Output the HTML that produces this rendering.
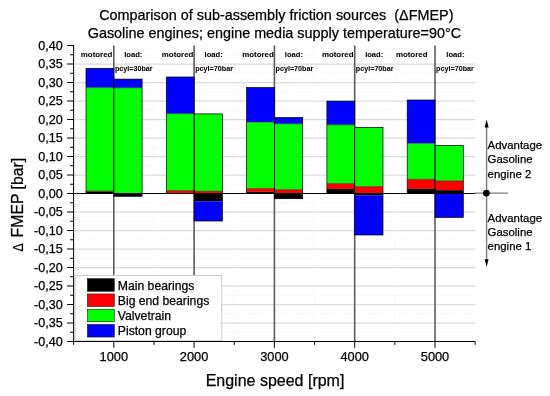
<!DOCTYPE html>
<html><head><meta charset="utf-8"><title>Comparison of sub-assembly friction sources</title>
<style>html,body{margin:0;padding:0;background:#fff}svg{display:block}text{font-family:"Liberation Sans",Arial,sans-serif;fill:#000;stroke:#000;stroke-width:0.25px}.s text{stroke-width:0.06px}</style>
</head><body>
<svg width="550" height="396" viewBox="0 0 550 396">
<rect width="550" height="396" fill="#fff"/>
<g stroke="#dcdcdc" stroke-width="1.25">
<line x1="73.6" x2="475.2" y1="323.00" y2="323.00"/>
<line x1="73.6" x2="475.2" y1="304.50" y2="304.50"/>
<line x1="73.6" x2="475.2" y1="286.00" y2="286.00"/>
<line x1="73.6" x2="475.2" y1="267.50" y2="267.50"/>
<line x1="73.6" x2="475.2" y1="249.00" y2="249.00"/>
<line x1="73.6" x2="475.2" y1="230.50" y2="230.50"/>
<line x1="73.6" x2="475.2" y1="212.00" y2="212.00"/>
<line x1="73.6" x2="475.2" y1="175.00" y2="175.00"/>
<line x1="73.6" x2="475.2" y1="156.50" y2="156.50"/>
<line x1="73.6" x2="475.2" y1="138.00" y2="138.00"/>
<line x1="73.6" x2="475.2" y1="119.50" y2="119.50"/>
<line x1="73.6" x2="475.2" y1="101.00" y2="101.00"/>
<line x1="73.6" x2="475.2" y1="82.50" y2="82.50"/>
<line x1="73.6" x2="475.2" y1="64.00" y2="64.00"/>
</g>
<g stroke="#e9e9e9" stroke-width="0.8" stroke-dasharray="1 2">
<line x1="73.6" x2="475.2" y1="332.25" y2="332.25"/>
<line x1="73.6" x2="475.2" y1="313.75" y2="313.75"/>
<line x1="73.6" x2="475.2" y1="295.25" y2="295.25"/>
<line x1="73.6" x2="475.2" y1="276.75" y2="276.75"/>
<line x1="73.6" x2="475.2" y1="258.25" y2="258.25"/>
<line x1="73.6" x2="475.2" y1="239.75" y2="239.75"/>
<line x1="73.6" x2="475.2" y1="221.25" y2="221.25"/>
<line x1="73.6" x2="475.2" y1="202.75" y2="202.75"/>
<line x1="73.6" x2="475.2" y1="184.25" y2="184.25"/>
<line x1="73.6" x2="475.2" y1="165.75" y2="165.75"/>
<line x1="73.6" x2="475.2" y1="147.25" y2="147.25"/>
<line x1="73.6" x2="475.2" y1="128.75" y2="128.75"/>
<line x1="73.6" x2="475.2" y1="110.25" y2="110.25"/>
<line x1="73.6" x2="475.2" y1="91.75" y2="91.75"/>
<line x1="73.6" x2="475.2" y1="73.25" y2="73.25"/>
<line x1="73.6" x2="475.2" y1="54.75" y2="54.75"/>
<line x1="153.95" x2="153.95" y1="45.5" y2="341.5"/>
<line x1="234.25" x2="234.25" y1="45.5" y2="341.5"/>
<line x1="314.55" x2="314.55" y1="45.5" y2="341.5"/>
<line x1="394.85" x2="394.85" y1="45.5" y2="341.5"/>
</g>
<g stroke="#5c5c5c" stroke-width="1.6">
<line x1="113.80" x2="113.80" y1="45.5" y2="341.5"/>
<line x1="194.10" x2="194.10" y1="45.5" y2="341.5"/>
<line x1="274.40" x2="274.40" y1="45.5" y2="341.5"/>
<line x1="354.70" x2="354.70" y1="45.5" y2="341.5"/>
<line x1="435.00" x2="435.00" y1="45.5" y2="341.5"/>
</g>
<rect x="75.0" y="275.6" width="146.8" height="65.2" fill="#fff" stroke="#c8c8c8" stroke-width="1"/>
<rect x="87.4" y="278.70" width="26.9" height="12.6" fill="#000" stroke="#000" stroke-width="0.5"/>
<text x="117.8" y="289.9" font-size="12.2">Main bearings</text>
<rect x="87.4" y="293.95" width="26.9" height="12.6" fill="#f00" stroke="#000" stroke-width="0.5"/>
<text x="117.8" y="304.9" font-size="12.2">Big end bearings</text>
<rect x="87.4" y="309.20" width="26.9" height="12.6" fill="#0f0" stroke="#000" stroke-width="0.5"/>
<text x="117.8" y="319.9" font-size="12.2">Valvetrain</text>
<rect x="87.4" y="324.45" width="26.9" height="12.6" fill="#00f" stroke="#000" stroke-width="0.5"/>
<text x="117.8" y="334.9" font-size="12.2">Piston group</text>
<g>
<rect x="86.00" y="68.40" width="27.80" height="19.20" fill="#00f"/>
<rect x="86.00" y="87.60" width="27.80" height="103.40" fill="#0f0"/>
<rect x="86.00" y="191.00" width="27.80" height="0.70" fill="#f00"/>
<rect x="86.00" y="191.70" width="27.80" height="1.80" fill="#000"/>
<rect x="113.80" y="79.10" width="28.30" height="8.70" fill="#00f"/>
<rect x="113.80" y="87.80" width="28.30" height="105.70" fill="#0f0"/>
<rect x="113.80" y="193.50" width="28.30" height="2.80" fill="#000"/>
<rect x="166.30" y="77.00" width="27.80" height="36.70" fill="#00f"/>
<rect x="166.30" y="113.70" width="27.80" height="76.90" fill="#0f0"/>
<rect x="166.30" y="190.60" width="27.80" height="2.90" fill="#f00"/>
<rect x="194.10" y="113.90" width="28.30" height="77.30" fill="#0f0"/>
<rect x="194.10" y="191.20" width="28.30" height="2.30" fill="#f00"/>
<rect x="194.10" y="193.50" width="28.30" height="7.80" fill="#000"/>
<rect x="194.10" y="201.30" width="28.30" height="19.70" fill="#00f"/>
<rect x="246.60" y="87.50" width="27.80" height="34.70" fill="#00f"/>
<rect x="246.60" y="122.20" width="27.80" height="66.40" fill="#0f0"/>
<rect x="246.60" y="188.60" width="27.80" height="3.20" fill="#f00"/>
<rect x="246.60" y="191.80" width="27.80" height="1.70" fill="#000"/>
<rect x="274.40" y="117.50" width="28.30" height="6.30" fill="#00f"/>
<rect x="274.40" y="123.80" width="28.30" height="65.80" fill="#0f0"/>
<rect x="274.40" y="189.60" width="28.30" height="3.90" fill="#f00"/>
<rect x="274.40" y="193.50" width="28.30" height="5.20" fill="#000"/>
<rect x="326.90" y="101.10" width="27.80" height="23.70" fill="#00f"/>
<rect x="326.90" y="124.80" width="27.80" height="58.80" fill="#0f0"/>
<rect x="326.90" y="183.60" width="27.80" height="5.40" fill="#f00"/>
<rect x="326.90" y="189.00" width="27.80" height="4.50" fill="#000"/>
<rect x="354.70" y="127.50" width="28.30" height="59.10" fill="#0f0"/>
<rect x="354.70" y="186.60" width="28.30" height="6.90" fill="#f00"/>
<rect x="354.70" y="193.50" width="28.30" height="1.80" fill="#000"/>
<rect x="354.70" y="195.30" width="28.30" height="39.70" fill="#00f"/>
<rect x="407.20" y="100.00" width="27.80" height="43.40" fill="#00f"/>
<rect x="407.20" y="143.40" width="27.80" height="35.90" fill="#0f0"/>
<rect x="407.20" y="179.30" width="27.80" height="9.60" fill="#f00"/>
<rect x="407.20" y="188.90" width="27.80" height="4.60" fill="#000"/>
<rect x="435.00" y="145.50" width="28.30" height="35.40" fill="#0f0"/>
<rect x="435.00" y="180.90" width="28.30" height="9.30" fill="#f00"/>
<rect x="435.00" y="190.20" width="28.30" height="3.40" fill="#000"/>
<rect x="435.00" y="193.60" width="28.30" height="23.80" fill="#00f"/>
</g>
<g stroke="#000" stroke-width="0.5" stroke-opacity="0.75" fill="none">
<line x1="86.00" x2="113.80" y1="87.60" y2="87.60"/>
<line x1="86.00" x2="113.80" y1="191.00" y2="191.00"/>
<line x1="113.80" x2="142.10" y1="87.80" y2="87.80"/>
<line x1="166.30" x2="194.10" y1="113.70" y2="113.70"/>
<line x1="166.30" x2="194.10" y1="190.60" y2="190.60"/>
<line x1="194.10" x2="222.40" y1="191.20" y2="191.20"/>
<line x1="246.60" x2="274.40" y1="122.20" y2="122.20"/>
<line x1="246.60" x2="274.40" y1="188.60" y2="188.60"/>
<line x1="274.40" x2="302.70" y1="123.80" y2="123.80"/>
<line x1="274.40" x2="302.70" y1="189.60" y2="189.60"/>
<line x1="326.90" x2="354.70" y1="124.80" y2="124.80"/>
<line x1="326.90" x2="354.70" y1="183.60" y2="183.60"/>
<line x1="354.70" x2="383.00" y1="186.60" y2="186.60"/>
<line x1="407.20" x2="435.00" y1="143.40" y2="143.40"/>
<line x1="407.20" x2="435.00" y1="179.30" y2="179.30"/>
<line x1="435.00" x2="463.30" y1="180.90" y2="180.90"/>
</g>
<g stroke="#000" stroke-width="0.7" fill="none">
<rect x="86.00" y="68.40" width="27.80" height="125.10"/>
<rect x="113.80" y="79.10" width="28.30" height="117.20"/>
<rect x="166.30" y="77.00" width="27.80" height="116.50"/>
<rect x="194.10" y="113.90" width="28.30" height="107.10"/>
<rect x="246.60" y="87.50" width="27.80" height="106.00"/>
<rect x="274.40" y="117.50" width="28.30" height="81.20"/>
<rect x="326.90" y="101.10" width="27.80" height="92.40"/>
<rect x="354.70" y="127.50" width="28.30" height="107.50"/>
<rect x="407.20" y="100.00" width="27.80" height="93.50"/>
<rect x="435.00" y="145.50" width="28.30" height="71.90"/>
</g>
<line x1="73.6" x2="475.2" y1="193.5" y2="193.5" stroke="#000" stroke-width="1.0"/>
<line x1="475.2" x2="508" y1="193.1" y2="193.1" stroke="#7c7c7c" stroke-width="1.4"/>
<g stroke="#000" stroke-width="1.0">
<line x1="73.6" x2="73.6" y1="44.9" y2="342.1"/>
<line x1="73.6" x2="475.2" y1="341.5" y2="341.5"/>
<line x1="67.1" x2="73.6" y1="341.50" y2="341.50"/>
<line x1="67.1" x2="73.6" y1="323.00" y2="323.00"/>
<line x1="67.1" x2="73.6" y1="304.50" y2="304.50"/>
<line x1="67.1" x2="73.6" y1="286.00" y2="286.00"/>
<line x1="67.1" x2="73.6" y1="267.50" y2="267.50"/>
<line x1="67.1" x2="73.6" y1="249.00" y2="249.00"/>
<line x1="67.1" x2="73.6" y1="230.50" y2="230.50"/>
<line x1="67.1" x2="73.6" y1="212.00" y2="212.00"/>
<line x1="67.1" x2="73.6" y1="193.50" y2="193.50"/>
<line x1="67.1" x2="73.6" y1="175.00" y2="175.00"/>
<line x1="67.1" x2="73.6" y1="156.50" y2="156.50"/>
<line x1="67.1" x2="73.6" y1="138.00" y2="138.00"/>
<line x1="67.1" x2="73.6" y1="119.50" y2="119.50"/>
<line x1="67.1" x2="73.6" y1="101.00" y2="101.00"/>
<line x1="67.1" x2="73.6" y1="82.50" y2="82.50"/>
<line x1="67.1" x2="73.6" y1="64.00" y2="64.00"/>
<line x1="67.1" x2="73.6" y1="45.50" y2="45.50"/>
<line x1="70.1" x2="73.6" y1="332.25" y2="332.25"/>
<line x1="70.1" x2="73.6" y1="313.75" y2="313.75"/>
<line x1="70.1" x2="73.6" y1="295.25" y2="295.25"/>
<line x1="70.1" x2="73.6" y1="276.75" y2="276.75"/>
<line x1="70.1" x2="73.6" y1="258.25" y2="258.25"/>
<line x1="70.1" x2="73.6" y1="239.75" y2="239.75"/>
<line x1="70.1" x2="73.6" y1="221.25" y2="221.25"/>
<line x1="70.1" x2="73.6" y1="202.75" y2="202.75"/>
<line x1="70.1" x2="73.6" y1="184.25" y2="184.25"/>
<line x1="70.1" x2="73.6" y1="165.75" y2="165.75"/>
<line x1="70.1" x2="73.6" y1="147.25" y2="147.25"/>
<line x1="70.1" x2="73.6" y1="128.75" y2="128.75"/>
<line x1="70.1" x2="73.6" y1="110.25" y2="110.25"/>
<line x1="70.1" x2="73.6" y1="91.75" y2="91.75"/>
<line x1="70.1" x2="73.6" y1="73.25" y2="73.25"/>
<line x1="70.1" x2="73.6" y1="54.75" y2="54.75"/>
<line x1="113.80" x2="113.80" y1="341.5" y2="347.8"/>
<line x1="194.10" x2="194.10" y1="341.5" y2="347.8"/>
<line x1="274.40" x2="274.40" y1="341.5" y2="347.8"/>
<line x1="354.70" x2="354.70" y1="341.5" y2="347.8"/>
<line x1="435.00" x2="435.00" y1="341.5" y2="347.8"/>
<line x1="73.65" x2="73.65" y1="341.5" y2="344.8"/>
<line x1="153.95" x2="153.95" y1="341.5" y2="344.8"/>
<line x1="234.25" x2="234.25" y1="341.5" y2="344.8"/>
<line x1="314.55" x2="314.55" y1="341.5" y2="344.8"/>
<line x1="394.85" x2="394.85" y1="341.5" y2="344.8"/>
<line x1="475.15" x2="475.15" y1="341.5" y2="344.8"/>
</g>
<g font-size="12.6" text-anchor="end">
<text x="62.8" y="345.80">-0,40</text>
<text x="62.8" y="327.30">-0,35</text>
<text x="62.8" y="308.80">-0,30</text>
<text x="62.8" y="290.30">-0,25</text>
<text x="62.8" y="271.80">-0,20</text>
<text x="62.8" y="253.30">-0,15</text>
<text x="62.8" y="234.80">-0,10</text>
<text x="62.8" y="216.30">-0,05</text>
<text x="62.8" y="197.80">0,00</text>
<text x="62.8" y="179.30">0,05</text>
<text x="62.8" y="160.80">0,10</text>
<text x="62.8" y="142.30">0,15</text>
<text x="62.8" y="123.80">0,20</text>
<text x="62.8" y="105.30">0,25</text>
<text x="62.8" y="86.80">0,30</text>
<text x="62.8" y="68.30">0,35</text>
<text x="62.8" y="49.80">0,40</text>
</g>
<g font-size="12.8" text-anchor="middle">
<text x="113.80" y="360.8">1000</text>
<text x="194.10" y="360.8">2000</text>
<text x="274.40" y="360.8">3000</text>
<text x="354.70" y="360.8">4000</text>
<text x="435.00" y="360.8">5000</text>
</g>
<text x="275" y="386.2" font-size="16" text-anchor="middle">Engine speed [rpm]</text>
<text transform="translate(23.2 251.6) rotate(-90) scale(0.76 0.9)" font-size="15.8">Δ</text>
<text transform="translate(23.4 237.4) rotate(-90)" font-size="15.8">FMEP [bar]</text>
<text x="276.3" y="19.5" font-size="14.4" text-anchor="middle" xml:space="preserve">Comparison of sub-assembly friction sources  (ΔFMEP)</text>
<text x="274.4" y="37.6" font-size="14.4" text-anchor="middle">Gasoline engines; engine media supply temperature=90°C</text>
<g font-weight="bold" class="s">
<text x="96.60" y="56.8" font-size="7.9" text-anchor="middle">motored</text>
<text x="133.30" y="56.8" font-size="7.6" text-anchor="middle">load:</text>
<text x="114.90" y="70.8" font-size="7.2">pcyl=30bar</text>
<text x="177.60" y="56.8" font-size="7.9" text-anchor="middle">motored</text>
<text x="213.60" y="56.8" font-size="7.6" text-anchor="middle">load:</text>
<text x="195.20" y="70.8" font-size="7.2">pcyl=70bar</text>
<text x="258.00" y="56.8" font-size="7.9" text-anchor="middle">motored</text>
<text x="293.90" y="56.8" font-size="7.6" text-anchor="middle">load:</text>
<text x="275.50" y="70.8" font-size="7.2">pcyl=70bar</text>
<text x="337.70" y="56.8" font-size="7.9" text-anchor="middle">motored</text>
<text x="374.20" y="56.8" font-size="7.6" text-anchor="middle">load:</text>
<text x="355.80" y="70.8" font-size="7.2">pcyl=70bar</text>
<text x="411.70" y="56.8" font-size="7.9" text-anchor="middle">motored</text>
<text x="455.40" y="56.8" font-size="7.6" text-anchor="middle">load:</text>
<text x="436.10" y="70.8" font-size="7.2">pcyl=70bar</text>
</g>
<line x1="486.6" x2="486.6" y1="125" y2="261" stroke="#7c7c7c" stroke-width="1.4"/>
<path d="M486.6 119.6 L488.6 127.4 L484.6 127.4 Z" fill="#000"/>
<path d="M486.6 266.8 L488.6 259.2 L484.6 259.2 Z" fill="#000"/>
<circle cx="486.4" cy="193.1" r="3.4" fill="#000"/>
<g font-size="11.4">
<text x="487.6" y="149.3">Advantage</text>
<text x="487.6" y="163.4">Gasoline</text>
<text x="487.6" y="177.5">engine 2</text>
<text x="487.6" y="222.2">Advantage</text>
<text x="487.6" y="236.2">Gasoline</text>
<text x="487.6" y="250.2">engine 1</text>
</g>
</svg>
</body></html>
